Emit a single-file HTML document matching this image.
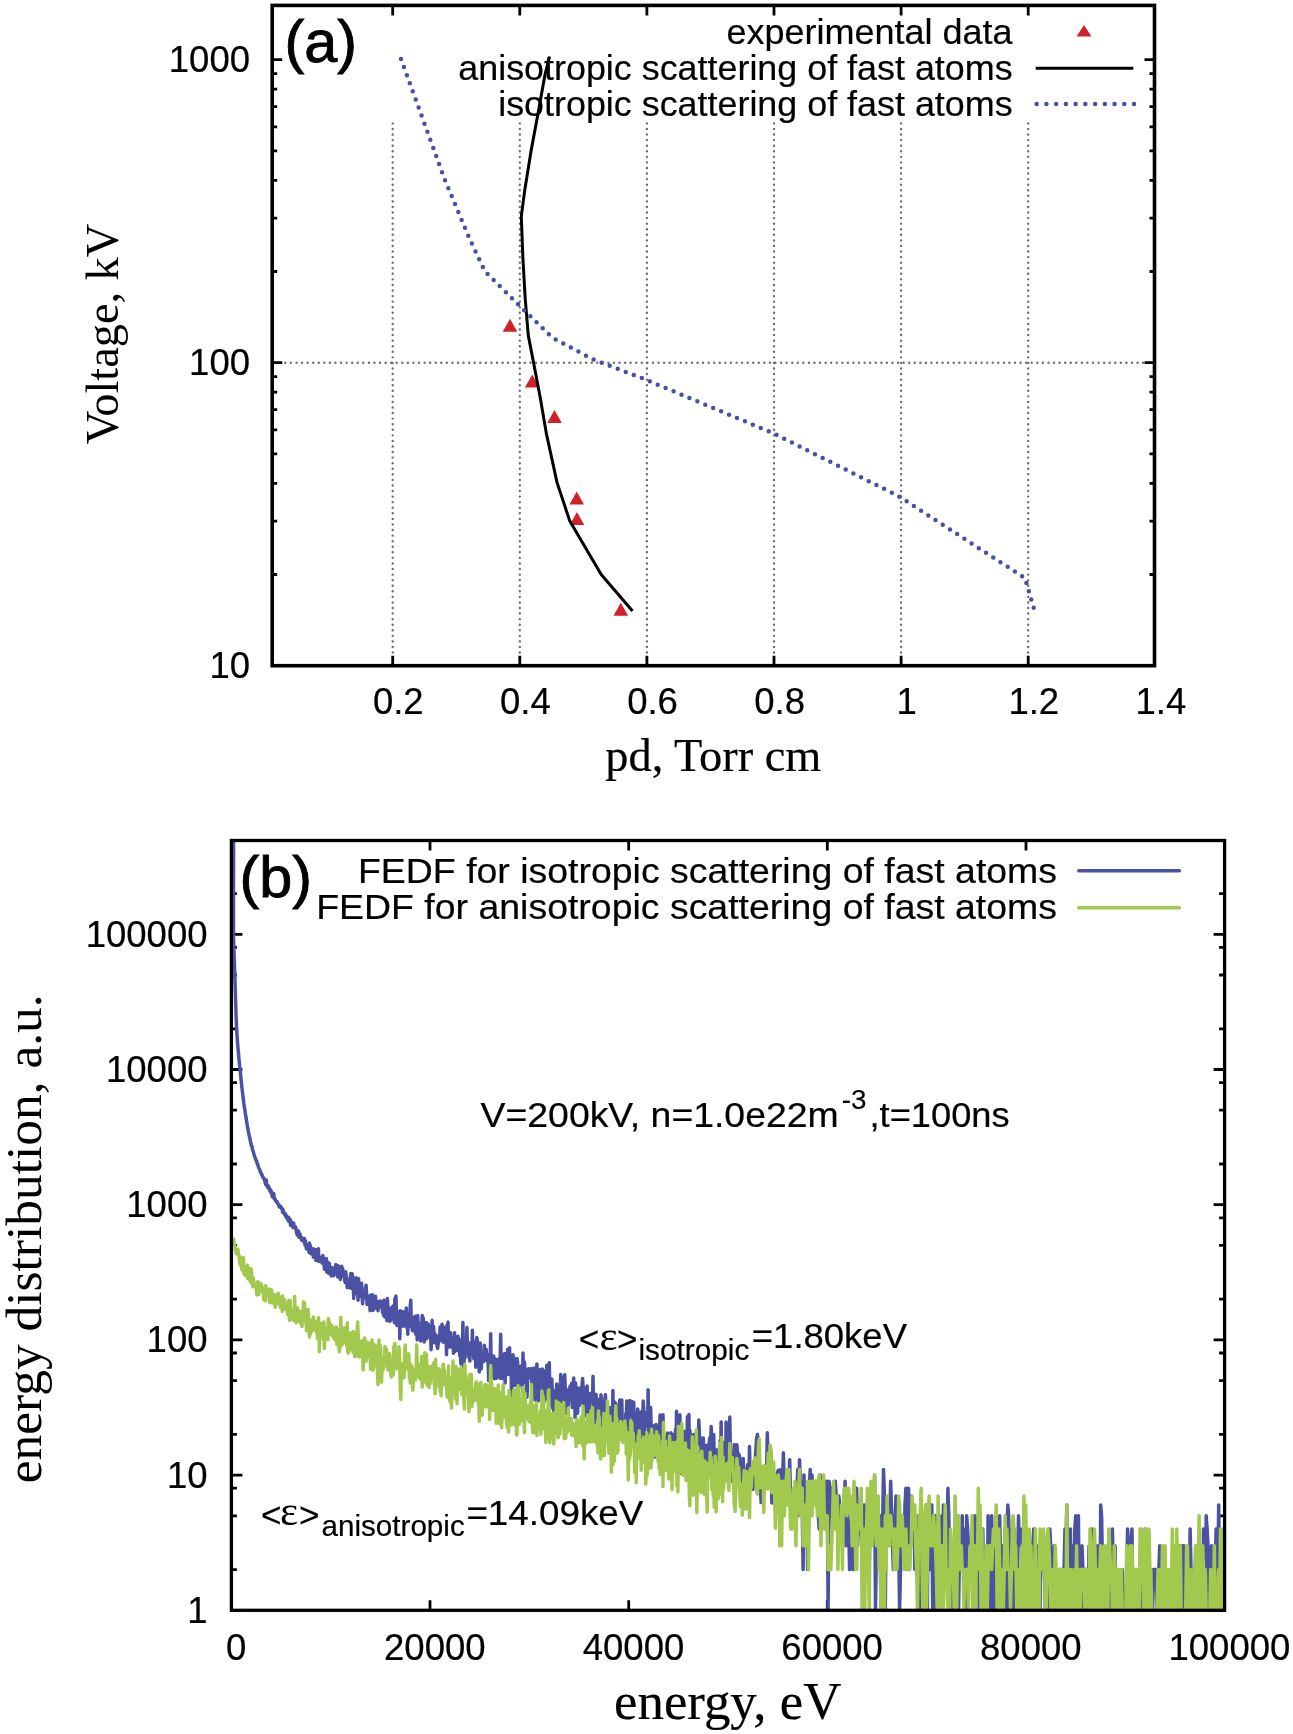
<!DOCTYPE html><html><head><meta charset="utf-8"><style>html,body{margin:0;padding:0;background:#fff;width:1293px;height:1734px;overflow:hidden;position:relative}</style></head><body><svg width="1293" height="1734" viewBox="0 0 1293 1734" style="position:absolute;left:0;top:0;filter:blur(0.5px)"><rect width="1293" height="1734" fill="#fff"/><path d="M392.7 663.7V121.2 M519.8 663.7V121.2 M646.9 663.7V121.2 M774.0 663.7V121.2 M901.1 663.7V121.2 M1028.2 663.7V121.2 M274.2 362.7H1152.5" stroke="#6e6e6e" stroke-width="2.4" stroke-linecap="round" stroke-dasharray="0 5.57" fill="none"/><path d="M272.2 665.7h10M1154.5 665.7h-10M272.2 574.5h5M1154.5 574.5h-5M272.2 521.1h5M1154.5 521.1h-5M272.2 483.3h5M1154.5 483.3h-5M272.2 453.9h5M1154.5 453.9h-5M272.2 429.9h5M1154.5 429.9h-5M272.2 409.6h5M1154.5 409.6h-5M272.2 392.1h5M1154.5 392.1h-5M272.2 376.6h5M1154.5 376.6h-5M272.2 362.7h10M1154.5 362.7h-10M272.2 271.5h5M1154.5 271.5h-5M272.2 218.1h5M1154.5 218.1h-5M272.2 180.3h5M1154.5 180.3h-5M272.2 150.9h5M1154.5 150.9h-5M272.2 126.9h5M1154.5 126.9h-5M272.2 106.6h5M1154.5 106.6h-5M272.2 89.1h5M1154.5 89.1h-5M272.2 73.6h5M1154.5 73.6h-5M272.2 59.7h10M1154.5 59.7h-10M392.7 665.7v-10M392.7 5.4v10M519.8 665.7v-10M519.8 5.4v10M646.9 665.7v-10M646.9 5.4v10M774.0 665.7v-10M774.0 5.4v10M901.1 665.7v-10M901.1 5.4v10M1028.2 665.7v-10M1028.2 5.4v10" stroke="#000" stroke-width="2.8" fill="none"/><path d="M510.0 318.7L517.3 331.7H502.7Z" fill="#d0212b"/><path d="M532.2 374.5L539.5 387.5H524.9Z" fill="#d0212b"/><path d="M554.5 410.1L561.8 423.1H547.2Z" fill="#d0212b"/><path d="M576.7 491.5L584.0 504.5H569.4Z" fill="#d0212b"/><path d="M577.0 512.1L584.3 525.1H569.7Z" fill="#d0212b"/><path d="M620.8 602.8L628.1 615.8H613.5Z" fill="#d0212b"/><polyline points="549.6,56.5 545.0,74.6 538.0,113.8 531.1,150.7 524.8,189.9 521.3,216.4 522.9,258.3 525.2,298.5 528.3,335.6 533.6,362.9 540.4,398.5 546.3,433.3 557.0,482.4 569.8,521.1 601.2,574.5 632.5,611.0" stroke="#000" stroke-width="3" fill="none" stroke-linejoin="round"/><polyline points="401.0,59.0 444.6,179.2 469.6,238.9 485.0,271.5 518.7,304.9 552.0,337.4 592.2,359.0 644.8,379.2 773.2,433.2 898.2,495.9 1024.9,578.0 1034.7,611.2" stroke="#4751a3" stroke-width="4.5" stroke-linecap="round" stroke-dasharray="0 8.6" fill="none"/><rect x="272.2" y="5.4" width="882.3" height="660.3" stroke="#000" stroke-width="3.6" fill="none"/><text x="250.0" y="71.7" font-size="36.5" text-anchor="end" font-family="Liberation Sans, sans-serif" stroke="#000" stroke-width="0.2">1000</text><text x="250.0" y="374.7" font-size="36.5" text-anchor="end" font-family="Liberation Sans, sans-serif" stroke="#000" stroke-width="0.2">100</text><text x="250.0" y="677.7" font-size="36.5" text-anchor="end" font-family="Liberation Sans, sans-serif" stroke="#000" stroke-width="0.2">10</text><text x="398.3" y="713.6" font-size="36.5" text-anchor="middle" font-family="Liberation Sans, sans-serif" stroke="#000" stroke-width="0.2">0.2</text><text x="525.4" y="713.6" font-size="36.5" text-anchor="middle" font-family="Liberation Sans, sans-serif" stroke="#000" stroke-width="0.2">0.4</text><text x="652.5" y="713.6" font-size="36.5" text-anchor="middle" font-family="Liberation Sans, sans-serif" stroke="#000" stroke-width="0.2">0.6</text><text x="779.6" y="713.6" font-size="36.5" text-anchor="middle" font-family="Liberation Sans, sans-serif" stroke="#000" stroke-width="0.2">0.8</text><text x="906.7" y="713.6" font-size="36.5" text-anchor="middle" font-family="Liberation Sans, sans-serif" stroke="#000" stroke-width="0.2">1</text><text x="1033.8" y="713.6" font-size="36.5" text-anchor="middle" font-family="Liberation Sans, sans-serif" stroke="#000" stroke-width="0.2">1.2</text><text x="1160.9" y="713.6" font-size="36.5" text-anchor="middle" font-family="Liberation Sans, sans-serif" stroke="#000" stroke-width="0.2">1.4</text><text x="713.3" y="770.7" font-size="46" text-anchor="middle" font-family="Liberation Serif, serif" textLength="216.0" lengthAdjust="spacingAndGlyphs" stroke="#000" stroke-width="0.2">pd, Torr cm</text><text transform="translate(118.3 334) rotate(-90)" x="0" y="0" font-size="46.5" text-anchor="middle" font-family="Liberation Serif, serif" textLength="220.5" lengthAdjust="spacingAndGlyphs">Voltage, kV</text><text x="284.5" y="61.7" font-size="58.5" text-anchor="start" font-family="Liberation Sans, sans-serif" textLength="72.5" lengthAdjust="spacingAndGlyphs" stroke="#000" stroke-width="0.9">(a)</text><text x="1012.6" y="44.4" font-size="34.5" text-anchor="end" font-family="Liberation Sans, sans-serif" textLength="286.0" lengthAdjust="spacingAndGlyphs" stroke="#000" stroke-width="0.2">experimental data</text><text x="1012.6" y="80.2" font-size="34.5" text-anchor="end" font-family="Liberation Sans, sans-serif" textLength="554.3" lengthAdjust="spacingAndGlyphs" stroke="#000" stroke-width="0.2">anisotropic scattering of fast atoms</text><text x="1012.6" y="115.5" font-size="34.5" text-anchor="end" font-family="Liberation Sans, sans-serif" textLength="514.4" lengthAdjust="spacingAndGlyphs" stroke="#000" stroke-width="0.2">isotropic scattering of fast atoms</text><path d="M1084 25L1091.5 36.5H1076.5Z" fill="#d0212b"/><path d="M1035.7 68.3H1133.3" stroke="#000" stroke-width="3"/><path d="M1036.7 104H1134" stroke="#4751a3" stroke-width="4.5" stroke-linecap="round" stroke-dasharray="0 9.73"/><path d="M231.4 1610.3h11M1224.6 1610.3h-11M231.4 1569.6h5.5M1224.6 1569.6h-5.5M231.4 1515.8h5.5M1224.6 1515.8h-5.5M231.4 1488.2h5.5M1224.6 1488.2h-5.5M231.4 1475.1h11M1224.6 1475.1h-11M231.4 1434.4h5.5M1224.6 1434.4h-5.5M231.4 1380.6h5.5M1224.6 1380.6h-5.5M231.4 1353.0h5.5M1224.6 1353.0h-5.5M231.4 1339.9h11M1224.6 1339.9h-11M231.4 1299.2h5.5M1224.6 1299.2h-5.5M231.4 1245.4h5.5M1224.6 1245.4h-5.5M231.4 1217.8h5.5M1224.6 1217.8h-5.5M231.4 1204.7h11M1224.6 1204.7h-11M231.4 1164.0h5.5M1224.6 1164.0h-5.5M231.4 1110.2h5.5M1224.6 1110.2h-5.5M231.4 1082.6h5.5M1224.6 1082.6h-5.5M231.4 1069.5h11M1224.6 1069.5h-11M231.4 1028.8h5.5M1224.6 1028.8h-5.5M231.4 975.0h5.5M1224.6 975.0h-5.5M231.4 947.4h5.5M1224.6 947.4h-5.5M231.4 934.3h11M1224.6 934.3h-11M231.4 893.6h5.5M1224.6 893.6h-5.5M430.0 1610.3v-10M430.0 840.5v10M628.7 1610.3v-10M628.7 840.5v10M827.3 1610.3v-10M827.3 840.5v10M1026.0 1610.3v-10M1026.0 840.5v10" stroke="#000" stroke-width="2.8" fill="none"/><defs><clipPath id="cb"><rect x="231.4" y="840.5" width="993.2" height="769.8"/></clipPath></defs><g clip-path="url(#cb)"><path d="M233.6 842 L233.5 900 233.5 937.3 234.0 951.7 234.5 966.2 235.0 980.9 235.5 997.5 236.0 1013.4 236.5 1026.0 237.0 1035.1 237.5 1042.3 238.0 1048.1 238.5 1053.7 238.9 1058.7 239.4 1063.7 239.9 1068.0 240.4 1072.8 240.9 1078.1 241.4 1082.6 241.9 1087.3 242.4 1091.6 242.9 1095.6 243.4 1099.6 243.9 1103.7 244.4 1107.1 244.9 1110.0 245.4 1113.6 245.9 1116.6 246.4 1119.9 246.9 1123.0 247.4 1126.1 247.9 1128.8 248.4 1131.7 248.9 1134.1 249.4 1136.5 249.9 1138.4 250.4 1141.5 250.9 1142.9 251.4 1145.9 251.9 1146.0 252.4 1149.1 252.9 1150.6 253.3 1151.5 253.8 1154.0 254.3 1155.4 254.8 1156.9 255.3 1158.2 255.8 1160.2 256.3 1160.3 256.8 1162.0 257.3 1163.9 257.8 1164.5 258.3 1166.5 258.8 1168.0 259.3 1169.0 259.8 1169.7 260.3 1172.2 260.8 1172.5 261.3 1173.1 261.8 1175.2 262.3 1175.3 262.8 1177.4 263.3 1177.4 263.8 1178.6 264.3 1179.3 264.8 1181.1 265.3 1183.1 265.8 1184.6 266.3 1180.0 266.8 1185.6 267.3 1185.9 267.8 1187.6 268.2 1185.6 268.7 1187.1 269.2 1187.8 269.7 1190.7 270.2 1189.4 270.7 1192.1 271.2 1190.8 271.7 1193.1 272.2 1196.5 272.7 1194.8 273.2 1196.6 273.7 1193.5 274.2 1198.8 274.7 1198.4 275.2 1199.3 275.7 1200.8 276.2 1201.6 276.7 1201.5 277.2 1201.8 277.7 1203.7 278.2 1204.3 278.7 1204.7 279.2 1206.9 279.7 1206.7 280.2 1207.0 280.7 1206.3 281.2 1207.6 281.7 1208.6 282.2 1208.7 282.6 1212.2 283.1 1209.8 283.6 1213.0 284.1 1213.4 284.6 1214.6 285.1 1213.4 285.6 1216.4 286.1 1215.0 286.6 1217.4 287.1 1218.4 287.6 1217.4 288.1 1220.5 288.6 1217.3 289.1 1221.7 289.6 1221.9 290.1 1219.3 290.6 1225.4 291.1 1221.3 291.6 1223.7 292.1 1224.3 292.6 1224.8 293.1 1227.8 293.6 1223.0 294.1 1226.1 294.6 1226.5 295.1 1226.8 295.6 1227.1 296.1 1229.3 296.6 1232.9 297.1 1234.4 297.5 1235.3 298.0 1233.8 298.5 1230.9 299.0 1237.3 299.5 1235.6 300.0 1233.9 300.5 1236.9 301.0 1237.4 301.5 1240.1 302.0 1237.6 302.5 1240.2 303.0 1241.1 303.5 1241.0 304.0 1239.5 304.5 1238.5 305.0 1245.0 305.5 1241.0 306.0 1246.1 306.5 1248.9 307.0 1246.1 307.5 1244.7 308.0 1245.6 308.5 1244.9 309.0 1252.5 309.5 1243.1 310.0 1245.3 310.5 1246.4 311.0 1253.8 311.5 1248.2 311.9 1251.7 312.4 1252.3 312.9 1251.3 313.4 1257.0 313.9 1249.0 314.4 1249.8 314.9 1251.0 315.4 1249.6 315.9 1260.3 316.4 1256.3 316.9 1256.9 317.4 1260.5 317.9 1254.1 318.4 1248.7 318.9 1261.5 319.4 1256.4 319.9 1258.6 320.4 1258.8 320.9 1259.4 321.4 1257.8 321.9 1262.9 322.4 1262.6 322.9 1255.6 323.4 1261.9 323.9 1262.4 324.4 1269.2 324.9 1261.4 325.4 1261.3 325.9 1262.9 326.3 1258.4 326.8 1272.1 327.3 1261.6 327.8 1271.5 328.3 1269.7 328.8 1273.6 329.3 1263.2 329.8 1267.2 330.3 1268.8 330.8 1267.3 331.3 1275.9 331.8 1270.5 332.3 1267.7 332.8 1271.1 333.3 1269.4 333.8 1275.7 334.3 1269.1 334.8 1271.3 335.3 1269.6 335.8 1264.5 336.3 1270.9 336.8 1274.0 337.3 1270.3 337.8 1276.9 338.3 1265.8 338.8 1273.0 339.3 1273.4 339.8 1271.7 340.3 1279.5 340.8 1274.7 341.2 1276.0 341.7 1266.2 342.2 1269.6 342.7 1268.3 343.2 1276.4 343.7 1276.4 344.2 1272.8 344.7 1280.9 345.2 1282.4 345.7 1271.7 346.2 1276.9 346.7 1277.4 347.2 1287.7 347.7 1282.3 348.2 1282.9 348.7 1284.5 349.2 1280.1 349.7 1286.3 350.2 1288.0 350.7 1273.6 351.2 1280.9 351.7 1288.5 352.2 1273.8 352.7 1281.7 353.2 1283.0 353.7 1298.4 354.2 1278.2 354.7 1285.0 355.2 1280.1 355.6 1278.0 356.1 1293.4 356.6 1277.9 357.1 1283.5 357.6 1287.5 358.1 1300.2 358.6 1278.7 359.1 1287.5 359.6 1286.4 360.1 1296.2 360.6 1287.2 361.1 1287.8 361.6 1283.2 362.1 1296.6 362.6 1303.7 363.1 1295.8 363.6 1298.3 364.1 1291.8 364.6 1294.5 365.1 1292.9 365.6 1287.4 366.1 1285.4 366.6 1294.9 367.1 1304.5 367.6 1296.1 368.1 1297.6 368.6 1297.3 369.1 1298.1 369.6 1297.8 370.1 1310.7 370.5 1295.3 371.0 1295.9 371.5 1297.3 372.0 1300.3 372.5 1294.7 373.0 1310.5 373.5 1301.5 374.0 1297.7 374.5 1304.4 375.0 1302.4 375.5 1296.3 376.0 1303.8 376.5 1308.5 377.0 1306.5 377.5 1301.6 378.0 1310.7 378.5 1304.5 379.0 1307.5 379.5 1304.9 380.0 1300.9 380.5 1301.3 381.0 1305.8 381.5 1305.2 382.0 1301.9 382.5 1312.2 383.0 1306.5 383.5 1315.3 384.0 1300.1 384.5 1307.8 384.9 1317.1 385.4 1312.1 385.9 1304.3 386.4 1307.6 386.9 1320.7 387.4 1298.4 387.9 1308.7 388.4 1307.9 388.9 1312.8 389.4 1316.4 389.9 1321.3 390.4 1310.3 390.9 1311.8 391.4 1313.6 391.9 1306.9 392.4 1310.1 392.9 1319.5 393.4 1315.5 393.9 1305.2 394.4 1322.7 394.9 1298.6 395.4 1317.4 395.9 1295.9 396.4 1311.0 396.9 1325.4 397.4 1311.3 397.9 1314.1 398.4 1318.0 398.9 1314.8 399.4 1315.1 399.8 1338.7 400.3 1310.8 400.8 1318.3 401.3 1316.4 401.8 1311.7 402.3 1317.2 402.8 1326.2 403.3 1311.8 403.8 1320.3 404.3 1316.6 404.8 1323.8 405.3 1320.0 405.8 1326.4 406.3 1308.0 406.8 1327.6 407.3 1313.0 407.8 1334.3 408.3 1318.9 408.8 1323.2 409.3 1314.1 409.8 1320.0 410.3 1305.0 410.8 1300.3 411.3 1326.7 411.8 1317.7 412.3 1330.3 412.8 1330.8 413.3 1324.2 413.8 1317.2 414.2 1319.3 414.7 1326.0 415.2 1316.2 415.7 1334.1 416.2 1332.3 416.7 1326.2 417.2 1339.9 417.7 1315.6 418.2 1327.4 418.7 1329.2 419.2 1323.4 419.7 1337.6 420.2 1328.2 420.7 1340.9 421.2 1329.0 421.7 1327.0 422.2 1315.5 422.7 1328.3 423.2 1317.8 423.7 1328.9 424.2 1342.0 424.7 1323.3 425.2 1329.0 425.7 1334.4 426.2 1322.5 426.7 1338.8 427.2 1333.6 427.7 1325.0 428.2 1324.0 428.6 1336.5 429.1 1328.9 429.6 1330.9 430.1 1326.7 430.6 1333.9 431.1 1349.7 431.6 1335.5 432.1 1320.2 432.6 1339.9 433.1 1334.8 433.6 1326.5 434.1 1335.5 434.6 1342.8 435.1 1334.2 435.6 1335.9 436.1 1341.7 436.6 1336.0 437.1 1346.5 437.6 1348.3 438.1 1344.8 438.6 1337.1 439.1 1335.7 439.6 1341.0 440.1 1326.9 440.6 1331.2 441.1 1336.1 441.6 1327.0 442.1 1324.2 442.6 1331.1 443.1 1342.2 443.5 1330.2 444.0 1327.5 444.5 1334.3 445.0 1339.1 445.5 1336.0 446.0 1335.6 446.5 1354.7 447.0 1325.2 447.5 1338.8 448.0 1322.0 448.5 1339.0 449.0 1346.9 449.5 1332.8 450.0 1339.5 450.5 1332.7 451.0 1344.6 451.5 1345.0 452.0 1347.3 452.5 1347.6 453.0 1338.0 453.5 1353.3 454.0 1340.6 454.5 1332.7 455.0 1351.4 455.5 1345.1 456.0 1350.3 456.5 1347.1 457.0 1342.5 457.5 1337.8 457.9 1336.3 458.4 1350.8 458.9 1338.7 459.4 1350.9 459.9 1356.1 460.4 1354.7 460.9 1364.0 461.4 1346.0 461.9 1363.7 462.4 1345.1 462.9 1322.6 463.4 1356.1 463.9 1367.4 464.4 1344.5 464.9 1358.1 465.4 1348.9 465.9 1348.9 466.4 1346.9 466.9 1327.6 467.4 1346.6 467.9 1347.3 468.4 1351.0 468.9 1357.3 469.4 1356.6 469.9 1361.0 470.4 1342.7 470.9 1352.8 471.4 1345.0 471.9 1348.6 472.4 1330.2 472.8 1353.1 473.3 1346.4 473.8 1358.7 474.3 1341.6 474.8 1355.1 475.3 1353.0 475.8 1367.2 476.3 1348.3 476.8 1337.5 477.3 1340.8 477.8 1365.5 478.3 1345.9 478.8 1362.2 479.3 1372.0 479.8 1368.2 480.3 1343.1 480.8 1359.3 481.3 1368.8 481.8 1353.0 482.3 1353.5 482.8 1360.3 483.3 1352.4 483.8 1361.5 484.3 1345.2 484.8 1350.2 485.3 1359.1 485.8 1355.0 486.3 1349.6 486.8 1360.4 487.2 1354.1 487.7 1361.1 488.2 1363.6 488.7 1380.6 489.2 1373.9 489.7 1371.8 490.2 1360.8 490.7 1333.8 491.2 1372.1 491.7 1367.0 492.2 1376.4 492.7 1367.1 493.2 1365.6 493.7 1356.0 494.2 1378.7 494.7 1358.5 495.2 1361.5 495.7 1367.7 496.2 1378.3 496.7 1376.5 497.2 1367.5 497.7 1359.2 498.2 1366.9 498.7 1374.3 499.2 1363.1 499.7 1378.0 500.2 1357.9 500.7 1334.3 501.2 1373.5 501.6 1355.8 502.1 1378.4 502.6 1366.8 503.1 1362.0 503.6 1354.7 504.1 1368.0 504.6 1353.5 505.1 1383.0 505.6 1371.4 506.1 1369.3 506.6 1368.5 507.1 1371.2 507.6 1349.2 508.1 1374.5 508.6 1359.0 509.1 1365.8 509.6 1347.7 510.1 1373.4 510.6 1363.0 511.1 1364.8 511.6 1407.8 512.1 1367.1 512.6 1360.1 513.1 1354.8 513.6 1384.3 514.1 1374.7 514.6 1358.7 515.1 1385.6 515.6 1382.2 516.1 1366.5 516.5 1365.6 517.0 1358.4 517.5 1361.0 518.0 1371.6 518.5 1386.1 519.0 1381.8 519.5 1374.7 520.0 1370.5 520.5 1374.4 521.0 1366.1 521.5 1384.0 522.0 1380.5 522.5 1390.6 523.0 1353.0 523.5 1378.0 524.0 1365.2 524.5 1362.0 525.0 1372.6 525.5 1379.0 526.0 1382.8 526.5 1380.3 527.0 1397.3 527.5 1383.9 528.0 1369.1 528.5 1374.8 529.0 1368.8 529.5 1369.3 530.0 1370.6 530.5 1377.6 530.9 1376.9 531.4 1368.7 531.9 1383.7 532.4 1395.3 532.9 1370.3 533.4 1379.8 533.9 1368.0 534.4 1388.1 534.9 1399.9 535.4 1383.0 535.9 1388.7 536.4 1392.6 536.9 1363.9 537.4 1378.7 537.9 1395.7 538.4 1400.8 538.9 1383.7 539.4 1375.9 539.9 1379.7 540.4 1369.6 540.9 1379.5 541.4 1378.0 541.9 1405.7 542.4 1369.0 542.9 1390.4 543.4 1373.4 543.9 1402.4 544.4 1395.0 544.9 1371.1 545.4 1399.3 545.8 1383.2 546.3 1389.8 546.8 1365.3 547.3 1381.2 547.8 1370.8 548.3 1386.4 548.8 1405.9 549.3 1362.8 549.8 1393.3 550.3 1386.2 550.8 1387.4 551.3 1405.5 551.8 1379.1 552.3 1392.1 552.8 1408.4 553.3 1405.4 553.8 1414.8 554.3 1397.7 554.8 1391.2 555.3 1400.3 555.8 1389.8 556.3 1393.8 556.8 1383.9 557.3 1390.1 557.8 1392.3 558.3 1400.1 558.8 1404.7 559.3 1401.6 559.8 1386.9 560.2 1397.1 560.7 1374.5 561.2 1382.3 561.7 1408.0 562.2 1387.1 562.7 1377.9 563.2 1400.3 563.7 1378.5 564.2 1401.7 564.7 1374.7 565.2 1387.1 565.7 1396.4 566.2 1413.5 566.7 1395.4 567.2 1403.3 567.7 1390.2 568.2 1405.2 568.7 1389.4 569.2 1400.8 569.7 1388.5 570.2 1385.9 570.7 1393.7 571.2 1390.1 571.7 1383.2 572.2 1407.5 572.7 1389.4 573.2 1393.8 573.7 1377.9 574.2 1399.2 574.6 1385.7 575.1 1417.5 575.6 1382.9 576.1 1392.8 576.6 1393.5 577.1 1387.7 577.6 1413.3 578.1 1401.3 578.6 1397.9 579.1 1402.7 579.6 1405.4 580.1 1388.1 580.6 1399.3 581.1 1402.7 581.6 1399.6 582.1 1384.7 582.6 1378.5 583.1 1387.8 583.6 1395.0 584.1 1416.9 584.6 1408.0 585.1 1412.5 585.6 1412.9 586.1 1387.8 586.6 1409.2 587.1 1386.0 587.6 1401.2 588.1 1404.3 588.6 1405.3 589.1 1420.0 589.5 1408.1 590.0 1393.4 590.5 1395.5 591.0 1402.0 591.5 1396.0 592.0 1402.4 592.5 1399.7 593.0 1376.2 593.5 1403.2 594.0 1425.5 594.5 1430.3 595.0 1414.1 595.5 1403.1 596.0 1394.2 596.5 1406.3 597.0 1404.6 597.5 1399.3 598.0 1418.2 598.5 1407.4 599.0 1403.0 599.5 1411.9 600.0 1417.2 600.5 1401.3 601.0 1394.8 601.5 1407.1 602.0 1436.0 602.5 1417.7 603.0 1413.6 603.5 1403.7 603.9 1414.7 604.4 1414.4 604.9 1398.0 605.4 1394.8 605.9 1409.0 606.4 1423.2 606.9 1424.9 607.4 1403.1 607.9 1420.1 608.4 1411.4 608.9 1413.6 609.4 1409.8 609.9 1407.8 610.4 1424.2 610.9 1419.8 611.4 1410.3 611.9 1412.3 612.4 1428.9 612.9 1390.4 613.4 1429.7 613.9 1401.2 614.4 1432.9 614.9 1402.5 615.4 1435.1 615.9 1403.5 616.4 1412.5 616.9 1405.4 617.4 1423.8 617.9 1412.1 618.4 1412.5 618.8 1413.7 619.3 1422.4 619.8 1400.0 620.3 1437.6 620.8 1434.6 621.3 1434.0 621.8 1400.0 622.3 1427.5 622.8 1425.9 623.3 1426.1 623.8 1421.4 624.3 1420.9 624.8 1423.9 625.3 1436.2 625.8 1413.6 626.3 1418.7 626.8 1401.0 627.3 1414.2 627.8 1420.2 628.3 1436.4 628.8 1418.7 629.3 1412.8 629.8 1400.4 630.3 1415.6 630.8 1411.0 631.3 1413.6 631.8 1401.6 632.3 1407.6 632.8 1420.7 633.2 1438.6 633.7 1402.3 634.2 1420.9 634.7 1431.7 635.2 1439.6 635.7 1443.8 636.2 1419.7 636.7 1425.1 637.2 1419.6 637.7 1408.9 638.2 1431.2 638.7 1420.5 639.2 1430.7 639.7 1435.1 640.2 1451.9 640.7 1434.5 641.2 1411.9 641.7 1431.8 642.2 1422.0 642.7 1424.4 643.2 1401.1 643.7 1408.2 644.2 1434.5 644.7 1432.1 645.2 1412.7 645.7 1424.2 646.2 1426.0 646.7 1412.8 647.2 1420.6 647.7 1425.9 648.1 1389.8 648.6 1423.1 649.1 1445.4 649.6 1424.5 650.1 1425.5 650.6 1407.6 651.1 1425.1 651.6 1437.6 652.1 1425.0 652.6 1445.7 653.1 1434.9 653.6 1425.9 654.1 1441.8 654.6 1457.1 655.1 1444.8 655.6 1442.1 656.1 1424.4 656.6 1438.3 657.1 1433.3 657.6 1445.0 658.1 1432.1 658.6 1441.4 659.1 1426.1 659.6 1430.6 660.1 1414.9 660.6 1426.5 661.1 1438.7 661.6 1446.2 662.1 1432.2 662.5 1425.4 663.0 1414.7 663.5 1443.0 664.0 1453.4 664.5 1460.5 665.0 1449.7 665.5 1439.2 666.0 1440.6 666.5 1441.3 667.0 1437.9 667.5 1433.1 668.0 1460.5 668.5 1437.4 669.0 1440.5 669.5 1440.9 670.0 1444.6 670.5 1464.3 671.0 1432.8 671.5 1445.8 672.0 1441.2 672.5 1435.5 673.0 1439.3 673.5 1434.4 674.0 1434.4 674.5 1453.1 675.0 1456.3 675.5 1429.5 676.0 1451.6 676.5 1411.3 676.9 1456.5 677.4 1439.2 677.9 1442.6 678.4 1438.2 678.9 1455.0 679.4 1437.7 679.9 1414.7 680.4 1450.2 680.9 1473.5 681.4 1434.0 681.9 1437.3 682.4 1433.9 682.9 1454.8 683.4 1437.8 683.9 1431.3 684.4 1450.8 684.9 1443.4 685.4 1437.0 685.9 1433.9 686.4 1447.9 686.9 1442.0 687.4 1416.7 687.9 1416.4 688.4 1460.2 688.9 1414.4 689.4 1451.0 689.9 1430.6 690.4 1463.6 690.9 1449.0 691.4 1455.7 691.8 1434.8 692.3 1443.8 692.8 1440.6 693.3 1441.4 693.8 1444.4 694.3 1434.2 694.8 1445.9 695.3 1449.1 695.8 1457.3 696.3 1461.4 696.8 1456.2 697.3 1443.3 697.8 1434.0 698.3 1450.9 698.8 1420.1 699.3 1431.2 699.8 1449.0 700.3 1444.6 700.8 1450.3 701.3 1477.2 701.8 1438.3 702.3 1447.4 702.8 1475.5 703.3 1437.9 703.8 1459.5 704.3 1454.9 704.8 1477.1 705.3 1452.3 705.8 1445.6 706.2 1458.5 706.7 1452.5 707.2 1481.0 707.7 1444.9 708.2 1453.8 708.7 1453.9 709.2 1443.4 709.7 1438.1 710.2 1455.1 710.7 1440.4 711.2 1426.4 711.7 1471.1 712.2 1453.4 712.7 1479.9 713.2 1449.9 713.7 1434.4 714.2 1457.7 714.7 1473.5 715.2 1464.4 715.7 1449.9 716.2 1479.7 716.7 1478.6 717.2 1449.7 717.7 1478.3 718.2 1456.2 718.7 1474.2 719.2 1482.8 719.7 1445.2 720.2 1440.4 720.7 1470.6 721.1 1422.1 721.6 1456.1 722.1 1450.4 722.6 1456.0 723.1 1476.2 723.6 1442.7 724.1 1456.9 724.6 1451.3 725.1 1457.1 725.6 1466.0 726.1 1422.0 726.6 1452.9 727.1 1463.8 727.6 1449.6 728.0 1480.1 728.9 1454.9 729.8 1417.1 730.7 1472.6 731.6 1453.8 732.5 1481.7 733.4 1462.2 734.3 1444.6 735.2 1480.3 736.0 1479.4 736.9 1444.7 737.8 1460.1 738.7 1453.8 739.6 1456.3 740.5 1487.6 741.4 1495.2 742.3 1498.8 743.2 1458.4 744.1 1491.8 745.0 1498.4 745.9 1477.9 746.8 1471.2 747.7 1464.5 748.6 1501.3 749.5 1446.6 750.3 1487.0 751.2 1468.2 752.1 1472.0 753.0 1489.3 753.9 1464.8 754.8 1466.2 755.7 1452.3 756.6 1438.3 757.5 1434.5 758.4 1456.4 759.3 1461.6 760.2 1481.1 761.1 1502.6 762.0 1467.5 762.9 1486.4 763.8 1481.1 764.6 1485.5 765.5 1469.0 766.4 1485.0 767.3 1432.7 768.2 1461.6 769.1 1488.3 770.0 1471.9 770.9 1452.4 771.8 1502.9 772.7 1476.1 773.6 1491.0 774.5 1479.9 775.4 1491.2 776.3 1478.5 777.2 1473.4 778.1 1470.5 779.0 1512.9 779.8 1469.7 780.7 1483.6 781.6 1497.5 782.5 1486.3 783.4 1452.8 784.3 1489.2 785.2 1504.3 786.1 1472.3 787.0 1491.4 787.9 1473.0 788.8 1482.4 789.7 1459.8 790.6 1501.5 791.5 1497.2 792.4 1496.0 793.3 1505.1 794.1 1515.8 795.0 1505.1 795.9 1505.1 796.8 1496.0 797.7 1469.5 798.6 1515.8 799.5 1459.7 800.4 1481.3 801.3 1481.3 802.2 1505.1 803.1 1569.6 804.0 1475.1 804.9 1528.9 805.8 1496.0 806.7 1488.2 807.6 1569.6 808.4 1515.8 809.3 1488.2 810.2 1469.5 811.1 1488.2 812.0 1475.1 812.9 1505.1 813.8 1496.0 814.7 1496.0 815.6 1481.3 816.5 1496.0 817.4 1505.1 818.3 1515.8 819.2 1528.9 820.1 1475.1 821.0 1505.1 821.9 1505.1 822.8 1481.3 823.6 1496.0 824.5 1505.1 825.4 1481.3 826.3 1528.9 827.2 1481.3 828.1 1610.3 829.0 1481.3 829.9 1488.2 830.8 1515.8 831.7 1488.2 832.6 1528.9 833.5 1496.0 834.4 1496.0 835.3 1481.3 836.2 1496.0 837.1 1528.9 837.9 1528.9 838.8 1496.0 839.7 1505.1 840.6 1515.8 841.5 1515.8 842.4 1505.1 843.3 1505.1 844.2 1505.1 845.1 1481.3 846.0 1545.8 846.9 1496.0 847.8 1515.8 848.7 1528.9 849.6 1569.6 850.5 1545.8 851.4 1528.9 852.2 1505.1 853.1 1569.6 854.0 1488.2 854.9 1528.9 855.8 1496.0 856.7 1488.2 857.6 1545.8 858.5 1515.8 859.4 1505.1 860.3 1505.1 861.2 1528.9 862.1 1545.8 863.0 1515.8 863.9 1505.1 864.8 1505.1 865.7 1528.9 866.6 1515.8 867.4 1528.9 868.3 1528.9 869.2 1569.6 870.1 1505.1 871.0 1515.8 871.9 1505.1 872.8 1528.9 873.7 1515.8 874.6 1475.1 875.5 1610.3 876.4 1545.8 877.3 1545.8 878.2 1528.9 879.1 1528.9 880.0 1515.8 880.9 1610.3 881.7 1569.6 882.6 1528.9 883.5 1469.5 884.4 1496.0 885.3 1610.3 886.2 1505.1 887.1 1515.8 888.0 1528.9 888.9 1528.9 889.8 1515.8 890.7 1481.3 891.6 1515.8 892.5 1545.8 893.4 1569.6 894.3 1515.8 895.2 1515.8 896.0 1496.0 896.9 1528.9 897.8 1528.9 898.7 1545.8 899.6 1610.3 900.5 1569.6 901.4 1528.9 902.3 1528.9 903.2 1515.8 904.1 1545.8 905.0 1505.1 905.9 1488.2 906.8 1545.8 907.7 1515.8 908.6 1488.2 909.5 1569.6 910.4 1515.8 911.2 1496.0 912.1 1515.8 913.0 1515.8 913.9 1505.1 914.8 1569.6 915.7 1545.8 916.6 1545.8 917.5 1569.6 918.4 1515.8 919.3 1610.3 920.2 1610.3 921.1 1610.3 922.0 1545.8 922.9 1569.6 923.8 1610.3 924.7 1610.3 925.5 1569.6 926.4 1505.1 927.3 1610.3 928.2 1515.8 929.1 1528.9 930.0 1569.6 930.9 1528.9 931.8 1505.1 932.7 1610.3 933.6 1545.8 934.5 1610.3 935.4 1515.8 936.3 1545.8 937.2 1610.3 938.1 1545.8 939.0 1569.6 939.8 1610.3 940.7 1610.3 941.6 1515.8 942.5 1610.3 943.4 1505.1 944.3 1515.8 945.2 1569.6 946.1 1569.6 947.0 1545.8 947.9 1488.2 948.8 1515.8 949.7 1569.6 950.6 1545.8 951.5 1610.3 952.4 1610.3 953.3 1569.6 954.2 1610.3 955.0 1610.3 955.9 1610.3 956.8 1610.3 957.7 1515.8 958.6 1610.3 959.5 1545.8 960.4 1545.8 961.3 1569.6 962.2 1515.8 963.1 1569.6 964.0 1528.9 964.9 1610.3 965.8 1610.3 966.7 1515.8 967.6 1528.9 968.5 1545.8 969.3 1545.8 970.2 1545.8 971.1 1569.6 972.0 1545.8 972.9 1610.3 973.8 1569.6 974.7 1515.8 975.6 1569.6 976.5 1569.6 977.4 1545.8 978.3 1515.8 979.2 1610.3 980.1 1569.6 981.0 1528.9 981.9 1569.6 982.8 1528.9 983.6 1610.3 984.5 1610.3 985.4 1569.6 986.3 1610.3 987.2 1610.3 988.1 1515.8 989.0 1610.3 989.9 1528.9 990.8 1610.3 991.7 1515.8 992.6 1569.6 993.5 1610.3 994.4 1528.9 995.3 1545.8 996.2 1610.3 997.1 1610.3 998.0 1569.6 998.8 1569.6 999.7 1515.8 1000.6 1569.6 1001.5 1545.8 1002.4 1610.3 1003.3 1545.8 1004.2 1610.3 1005.1 1528.9 1006.0 1610.3 1006.9 1528.9 1007.8 1505.1 1008.7 1515.8 1009.6 1610.3 1010.5 1528.9 1011.4 1569.6 1012.3 1545.8 1013.1 1610.3 1014.0 1528.9 1014.9 1569.6 1015.8 1610.3 1016.7 1545.8 1017.6 1569.6 1018.5 1515.8 1019.4 1545.8 1020.3 1545.8 1021.2 1545.8 1022.1 1528.9 1023.0 1569.6 1023.9 1569.6 1024.8 1569.6 1025.7 1610.3 1026.6 1569.6 1027.4 1545.8 1028.3 1610.3 1029.2 1610.3 1030.1 1610.3 1031.0 1569.6 1031.9 1610.3 1032.8 1545.8 1033.7 1528.9 1034.6 1610.3 1035.5 1569.6 1036.4 1569.6 1037.3 1545.8 1038.2 1610.3 1039.1 1569.6 1040.0 1610.3 1040.9 1545.8 1041.8 1569.6 1042.6 1569.6 1043.5 1569.6 1044.4 1569.6 1045.3 1610.3 1046.2 1610.3 1047.1 1545.8 1048.0 1610.3 1048.9 1610.3 1049.8 1528.9 1050.7 1545.8 1051.6 1569.6 1052.5 1569.6 1053.4 1610.3 1054.3 1545.8 1055.2 1610.3 1056.1 1610.3 1056.9 1610.3 1057.8 1610.3 1058.7 1610.3 1059.6 1569.6 1060.5 1569.6 1061.4 1569.6 1062.3 1569.6 1063.2 1569.6 1064.1 1569.6 1065.0 1528.9 1065.9 1545.8 1066.8 1505.1 1067.7 1569.6 1068.6 1569.6 1069.5 1610.3 1070.4 1528.9 1071.2 1610.3 1072.1 1545.8 1073.0 1610.3 1073.9 1610.3 1074.8 1528.9 1075.7 1515.8 1076.6 1610.3 1077.5 1569.6 1078.4 1515.8 1079.3 1610.3 1080.2 1610.3 1081.1 1610.3 1082.0 1545.8 1082.9 1569.6 1083.8 1610.3 1084.7 1569.6 1085.6 1569.6 1086.4 1569.6 1087.3 1610.3 1088.2 1610.3 1089.1 1545.8 1090.0 1610.3 1090.9 1569.6 1091.8 1528.9 1092.7 1610.3 1093.6 1545.8 1094.5 1545.8 1095.4 1610.3 1096.3 1610.3 1097.2 1545.8 1098.1 1610.3 1099.0 1569.6 1099.9 1610.3 1100.7 1505.1 1101.6 1515.8 1102.5 1569.6 1103.4 1610.3 1104.3 1610.3 1105.2 1610.3 1106.1 1610.3 1107.0 1610.3 1107.9 1610.3 1108.8 1610.3 1109.7 1569.6 1110.6 1610.3 1111.5 1610.3 1112.4 1528.9 1113.3 1569.6 1114.2 1610.3 1115.1 1545.8 1115.9 1610.3 1116.8 1569.6 1117.7 1610.3 1118.6 1610.3 1119.5 1610.3 1120.4 1610.3 1121.3 1610.3 1122.2 1569.6 1123.1 1610.3 1124.0 1610.3 1124.9 1610.3 1125.8 1610.3 1126.7 1569.6 1127.6 1528.9 1128.5 1545.8 1129.4 1545.8 1130.2 1569.6 1131.1 1545.8 1132.0 1528.9 1132.9 1610.3 1133.8 1610.3 1134.7 1610.3 1135.6 1569.6 1136.5 1569.6 1137.4 1610.3 1138.3 1569.6 1139.2 1569.6 1140.1 1610.3 1141.0 1610.3 1141.9 1569.6 1142.8 1569.6 1143.7 1569.6 1144.5 1610.3 1145.4 1528.9 1146.3 1545.8 1147.2 1610.3 1148.1 1610.3 1149.0 1610.3 1149.9 1569.6 1150.8 1610.3 1151.7 1569.6 1152.6 1610.3 1153.5 1569.6 1154.4 1569.6 1155.3 1569.6 1156.2 1569.6 1157.1 1610.3 1158.0 1610.3 1158.9 1569.6 1159.7 1545.8 1160.6 1610.3 1161.5 1610.3 1162.4 1569.6 1163.3 1569.6 1164.2 1610.3 1165.1 1569.6 1166.0 1610.3 1166.9 1610.3 1167.8 1610.3 1168.7 1610.3 1169.6 1610.3 1170.5 1569.6 1171.4 1569.6 1172.3 1610.3 1173.2 1610.3 1174.0 1569.6 1174.9 1569.6 1175.8 1569.6 1176.7 1610.3 1177.6 1610.3 1178.5 1610.3 1179.4 1545.8 1180.3 1545.8 1181.2 1610.3 1182.1 1610.3 1183.0 1545.8 1183.9 1545.8 1184.8 1569.6 1185.7 1610.3 1186.6 1610.3 1187.5 1569.6 1188.3 1610.3 1189.2 1610.3 1190.1 1528.9 1191.0 1569.6 1191.9 1610.3 1192.8 1610.3 1193.7 1610.3 1194.6 1569.6 1195.5 1610.3 1196.4 1610.3 1197.3 1545.8 1198.2 1610.3 1199.1 1610.3 1200.0 1610.3 1200.9 1569.6 1201.8 1610.3 1202.7 1610.3 1203.5 1528.9 1204.4 1545.8 1205.3 1610.3 1206.2 1515.8 1207.1 1528.9 1208.0 1545.8 1208.9 1610.3 1209.8 1610.3 1210.7 1569.6 1211.6 1545.8 1212.5 1610.3 1213.4 1610.3 1214.3 1610.3 1215.2 1569.6 1216.1 1528.9 1217.0 1569.6 1217.8 1569.6 1218.7 1505.1 1219.6 1569.6 1220.5 1610.3 1221.4 1610.3 1222.3 1569.6 1223.2 1569.6 1224.1 1528.9" stroke="#4b52a4" stroke-width="3.5" fill="none" stroke-linejoin="round"/><path d="M233.5 1237.8 234.0 1242.7 234.5 1245.4 235.0 1246.4 235.5 1250.3 236.0 1252.8 236.5 1253.9 237.0 1253.5 237.5 1253.1 238.0 1249.3 238.5 1255.7 238.9 1255.4 239.4 1256.0 239.9 1263.3 240.4 1265.1 240.9 1265.9 241.4 1258.1 241.9 1269.9 242.4 1263.6 242.9 1269.9 243.4 1257.6 243.9 1273.8 244.4 1274.3 244.9 1272.2 245.4 1275.6 245.9 1268.6 246.4 1268.7 246.9 1269.2 247.4 1265.1 247.9 1278.7 248.4 1274.7 248.9 1277.8 249.4 1280.0 249.9 1275.9 250.4 1268.4 250.9 1282.9 251.4 1269.4 251.9 1278.6 252.4 1282.8 252.9 1286.8 253.3 1277.8 253.8 1281.7 254.3 1283.8 254.8 1286.6 255.3 1284.9 255.8 1286.5 256.3 1284.6 256.8 1295.0 257.3 1285.0 257.8 1281.8 258.3 1283.2 258.8 1294.6 259.3 1287.6 259.8 1287.1 260.3 1283.1 260.8 1284.8 261.3 1284.4 261.8 1290.9 262.3 1286.9 262.8 1291.5 263.3 1292.8 263.8 1299.9 264.3 1290.1 264.8 1293.2 265.3 1300.9 265.8 1285.5 266.3 1295.1 266.8 1291.1 267.3 1291.7 267.8 1294.9 268.2 1292.9 268.7 1289.3 269.2 1299.0 269.7 1302.3 270.2 1289.3 270.7 1292.4 271.2 1299.9 271.7 1289.9 272.2 1303.0 272.7 1295.8 273.2 1294.7 273.7 1296.9 274.2 1294.6 274.7 1300.4 275.2 1307.3 275.7 1301.6 276.2 1295.1 276.7 1298.5 277.2 1299.4 277.7 1301.4 278.2 1293.3 278.7 1303.3 279.2 1298.9 279.7 1299.3 280.2 1307.1 280.7 1296.9 281.2 1299.5 281.7 1299.0 282.2 1311.5 282.6 1296.1 283.1 1306.4 283.6 1304.6 284.1 1302.3 284.6 1299.6 285.1 1309.2 285.6 1304.1 286.1 1306.4 286.6 1307.2 287.1 1307.5 287.6 1314.2 288.1 1308.6 288.6 1300.8 289.1 1315.7 289.6 1320.3 290.1 1300.4 290.6 1319.5 291.1 1312.9 291.6 1315.3 292.1 1309.8 292.6 1314.3 293.1 1308.9 293.6 1315.7 294.1 1320.5 294.6 1296.4 295.1 1312.6 295.6 1310.1 296.1 1322.7 296.6 1319.2 297.1 1317.9 297.5 1307.8 298.0 1320.9 298.5 1311.8 299.0 1317.8 299.5 1320.7 300.0 1310.9 300.5 1314.2 301.0 1324.1 301.5 1312.2 302.0 1326.5 302.5 1313.8 303.0 1318.4 303.5 1301.7 304.0 1314.5 304.5 1303.0 305.0 1314.5 305.5 1322.0 306.0 1314.1 306.5 1330.6 307.0 1329.0 307.5 1321.1 308.0 1309.2 308.5 1314.0 309.0 1331.4 309.5 1337.0 310.0 1319.7 310.5 1334.1 311.0 1331.1 311.5 1327.8 311.9 1330.8 312.4 1330.2 312.9 1325.7 313.4 1316.9 313.9 1329.7 314.4 1324.7 314.9 1321.9 315.4 1321.8 315.9 1326.7 316.4 1332.1 316.9 1327.2 317.4 1338.4 317.9 1327.8 318.4 1317.6 318.9 1323.1 319.4 1351.8 319.9 1324.0 320.4 1324.1 320.9 1331.6 321.4 1323.6 321.9 1324.1 322.4 1330.8 322.9 1331.9 323.4 1339.5 323.9 1322.0 324.4 1348.5 324.9 1327.8 325.4 1334.0 325.9 1330.7 326.3 1334.8 326.8 1332.1 327.3 1338.9 327.8 1339.6 328.3 1318.5 328.8 1335.1 329.3 1321.4 329.8 1326.3 330.3 1331.2 330.8 1330.4 331.3 1333.5 331.8 1325.4 332.3 1334.4 332.8 1336.9 333.3 1328.3 333.8 1334.1 334.3 1329.9 334.8 1339.7 335.3 1335.1 335.8 1326.9 336.3 1327.1 336.8 1344.4 337.3 1336.5 337.8 1344.8 338.3 1329.4 338.8 1344.2 339.3 1351.7 339.8 1346.6 340.3 1347.2 340.8 1317.3 341.2 1342.7 341.7 1331.7 342.2 1344.7 342.7 1335.3 343.2 1328.3 343.7 1331.3 344.2 1327.9 344.7 1331.7 345.2 1342.1 345.7 1336.1 346.2 1339.5 346.7 1345.4 347.2 1322.7 347.7 1350.3 348.2 1353.3 348.7 1347.0 349.2 1332.9 349.7 1346.5 350.2 1341.0 350.7 1350.0 351.2 1333.0 351.7 1341.2 352.2 1343.6 352.7 1331.8 353.2 1352.5 353.7 1331.9 354.2 1337.7 354.7 1356.6 355.2 1347.5 355.6 1341.7 356.1 1356.2 356.6 1354.4 357.1 1333.9 357.6 1321.9 358.1 1332.3 358.6 1342.0 359.1 1346.7 359.6 1357.1 360.1 1341.0 360.6 1353.2 361.1 1348.2 361.6 1347.6 362.1 1341.1 362.6 1344.0 363.1 1370.0 363.6 1355.4 364.1 1340.8 364.6 1338.0 365.1 1343.0 365.6 1341.1 366.1 1361.3 366.6 1351.7 367.1 1350.4 367.6 1342.7 368.1 1350.8 368.6 1357.1 369.1 1343.1 369.6 1352.1 370.1 1346.9 370.5 1369.1 371.0 1352.3 371.5 1348.3 372.0 1339.9 372.5 1353.4 373.0 1370.3 373.5 1367.6 374.0 1344.3 374.5 1345.6 375.0 1358.0 375.5 1364.8 376.0 1345.9 376.5 1362.2 377.0 1357.9 377.5 1372.6 378.0 1384.5 378.5 1356.2 379.0 1340.1 379.5 1362.2 380.0 1372.1 380.5 1346.0 381.0 1370.2 381.5 1382.1 382.0 1365.9 382.5 1357.7 383.0 1369.9 383.5 1361.6 384.0 1361.7 384.5 1361.5 384.9 1346.5 385.4 1360.6 385.9 1356.8 386.4 1348.9 386.9 1366.6 387.4 1354.0 387.9 1369.8 388.4 1363.1 388.9 1364.8 389.4 1353.5 389.9 1354.8 390.4 1372.0 390.9 1375.3 391.4 1377.0 391.9 1375.5 392.4 1372.4 392.9 1366.1 393.4 1374.9 393.9 1346.1 394.4 1352.7 394.9 1343.6 395.4 1361.0 395.9 1358.9 396.4 1368.8 396.9 1353.7 397.4 1360.7 397.9 1367.9 398.4 1362.7 398.9 1346.8 399.4 1349.5 399.8 1367.2 400.3 1389.0 400.8 1399.4 401.3 1368.8 401.8 1369.0 402.3 1369.1 402.8 1364.5 403.3 1363.0 403.8 1377.7 404.3 1375.8 404.8 1351.8 405.3 1344.9 405.8 1367.6 406.3 1367.7 406.8 1360.1 407.3 1365.6 407.8 1369.0 408.3 1369.9 408.8 1353.8 409.3 1377.9 409.8 1364.3 410.3 1383.1 410.8 1364.4 411.3 1367.1 411.8 1371.9 412.3 1367.0 412.8 1390.2 413.3 1380.1 413.8 1376.4 414.2 1370.7 414.7 1372.3 415.2 1379.9 415.7 1371.5 416.2 1368.4 416.7 1344.8 417.2 1370.7 417.7 1369.1 418.2 1369.6 418.7 1376.6 419.2 1378.1 419.7 1364.9 420.2 1376.5 420.7 1379.2 421.2 1374.2 421.7 1356.4 422.2 1387.1 422.7 1378.6 423.2 1371.3 423.7 1368.1 424.2 1356.3 424.7 1352.8 425.2 1381.9 425.7 1366.7 426.2 1353.9 426.7 1362.5 427.2 1384.9 427.7 1382.3 428.2 1374.8 428.6 1366.6 429.1 1387.4 429.6 1366.9 430.1 1383.6 430.6 1369.5 431.1 1368.6 431.6 1371.7 432.1 1365.7 432.6 1377.4 433.1 1375.2 433.6 1363.1 434.1 1384.2 434.6 1384.9 435.1 1393.8 435.6 1359.3 436.1 1387.0 436.6 1368.3 437.1 1377.9 437.6 1374.1 438.1 1383.7 438.6 1381.0 439.1 1368.7 439.6 1378.7 440.1 1391.5 440.6 1382.2 441.1 1396.0 441.6 1375.1 442.1 1371.3 442.6 1378.9 443.1 1364.6 443.5 1364.3 444.0 1383.9 444.5 1370.3 445.0 1385.3 445.5 1380.7 446.0 1385.4 446.5 1381.9 447.0 1396.6 447.5 1385.3 448.0 1397.7 448.5 1366.1 449.0 1389.5 449.5 1384.8 450.0 1401.6 450.5 1392.2 451.0 1378.6 451.5 1408.1 452.0 1381.1 452.5 1390.3 453.0 1361.0 453.5 1377.4 454.0 1375.0 454.5 1381.7 455.0 1373.7 455.5 1398.5 456.0 1366.5 456.5 1376.8 457.0 1403.8 457.5 1381.7 457.9 1385.8 458.4 1369.4 458.9 1389.5 459.4 1385.9 459.9 1381.6 460.4 1388.9 460.9 1367.7 461.4 1381.8 461.9 1394.7 462.4 1385.0 462.9 1390.1 463.4 1368.8 463.9 1400.5 464.4 1408.9 464.9 1364.3 465.4 1388.7 465.9 1375.5 466.4 1388.5 466.9 1394.4 467.4 1382.9 467.9 1388.3 468.4 1396.7 468.9 1411.5 469.4 1386.4 469.9 1374.4 470.4 1377.0 470.9 1406.3 471.4 1374.7 471.9 1406.7 472.4 1396.7 472.8 1390.4 473.3 1390.8 473.8 1401.0 474.3 1395.4 474.8 1390.6 475.3 1390.8 475.8 1384.3 476.3 1381.9 476.8 1391.1 477.3 1401.0 477.8 1384.5 478.3 1393.4 478.8 1402.5 479.3 1421.2 479.8 1391.9 480.3 1386.5 480.8 1382.3 481.3 1405.9 481.8 1395.8 482.3 1415.3 482.8 1393.5 483.3 1392.7 483.8 1405.6 484.3 1390.2 484.8 1384.9 485.3 1384.5 485.8 1407.0 486.3 1396.4 486.8 1384.9 487.2 1399.1 487.7 1401.6 488.2 1400.3 488.7 1387.3 489.2 1400.3 489.7 1419.5 490.2 1390.3 490.7 1365.4 491.2 1393.0 491.7 1382.5 492.2 1394.7 492.7 1401.3 493.2 1410.6 493.7 1393.1 494.2 1399.2 494.7 1388.8 495.2 1397.7 495.7 1392.1 496.2 1423.4 496.7 1396.2 497.2 1393.1 497.7 1396.8 498.2 1385.1 498.7 1401.8 499.2 1393.4 499.7 1424.0 500.2 1392.7 500.7 1393.2 501.2 1412.2 501.6 1427.7 502.1 1414.0 502.6 1403.5 503.1 1384.4 503.6 1417.2 504.1 1398.6 504.6 1396.8 505.1 1397.8 505.6 1412.2 506.1 1396.9 506.6 1420.7 507.1 1427.5 507.6 1406.2 508.1 1415.6 508.6 1432.0 509.1 1390.5 509.6 1396.9 510.1 1399.1 510.6 1417.1 511.1 1414.6 511.6 1425.0 512.1 1407.0 512.6 1410.1 513.1 1407.6 513.6 1390.2 514.1 1413.4 514.6 1409.7 515.1 1425.1 515.6 1389.7 516.1 1393.7 516.5 1435.1 517.0 1434.2 517.5 1388.7 518.0 1385.8 518.5 1400.3 519.0 1392.0 519.5 1424.2 520.0 1408.1 520.5 1399.1 521.0 1411.4 521.5 1420.8 522.0 1411.5 522.5 1420.0 523.0 1387.4 523.5 1414.5 524.0 1418.4 524.5 1432.8 525.0 1393.2 525.5 1412.8 526.0 1404.2 526.5 1412.4 527.0 1407.9 527.5 1411.0 528.0 1418.7 528.5 1406.0 529.0 1421.4 529.5 1408.6 530.0 1407.6 530.5 1402.7 530.9 1423.0 531.4 1384.6 531.9 1410.2 532.4 1426.7 532.9 1432.8 533.4 1412.3 533.9 1414.5 534.4 1406.1 534.9 1432.4 535.4 1414.7 535.9 1409.1 536.4 1402.9 536.9 1435.4 537.4 1422.1 537.9 1424.4 538.4 1416.6 538.9 1418.8 539.4 1414.4 539.9 1426.5 540.4 1410.8 540.9 1434.3 541.4 1416.8 541.9 1391.1 542.4 1428.6 542.9 1395.3 543.4 1401.0 543.9 1422.5 544.4 1411.2 544.9 1410.0 545.4 1428.9 545.8 1442.4 546.3 1420.8 546.8 1433.5 547.3 1411.2 547.8 1438.4 548.3 1393.3 548.8 1389.7 549.3 1427.4 549.8 1442.8 550.3 1414.8 550.8 1425.1 551.3 1420.3 551.8 1438.2 552.3 1436.8 552.8 1413.2 553.3 1435.5 553.8 1443.9 554.3 1413.8 554.8 1413.0 555.3 1424.1 555.8 1433.1 556.3 1401.0 556.8 1425.0 557.3 1412.8 557.8 1437.1 558.3 1437.7 558.8 1418.7 559.3 1403.0 559.8 1434.0 560.2 1428.7 560.7 1426.7 561.2 1405.0 561.7 1422.4 562.2 1417.4 562.7 1411.2 563.2 1413.7 563.7 1402.4 564.2 1438.7 564.7 1419.2 565.2 1418.5 565.7 1438.2 566.2 1421.6 566.7 1420.2 567.2 1428.2 567.7 1432.0 568.2 1408.3 568.7 1420.7 569.2 1425.0 569.7 1420.9 570.2 1430.5 570.7 1421.6 571.2 1418.6 571.7 1435.5 572.2 1426.1 572.7 1426.0 573.2 1423.3 573.7 1430.5 574.2 1425.8 574.6 1431.8 575.1 1437.1 575.6 1432.8 576.1 1446.5 576.6 1419.0 577.1 1422.3 577.6 1438.1 578.1 1439.1 578.6 1438.5 579.1 1442.8 579.6 1442.1 580.1 1421.3 580.6 1432.0 581.1 1416.8 581.6 1422.0 582.1 1423.2 582.6 1445.5 583.1 1406.2 583.6 1431.3 584.1 1458.9 584.6 1432.7 585.1 1434.3 585.6 1422.5 586.1 1443.4 586.6 1428.4 587.1 1435.2 587.6 1414.8 588.1 1434.6 588.6 1424.4 589.1 1417.9 589.5 1441.9 590.0 1427.3 590.5 1431.3 591.0 1410.5 591.5 1423.8 592.0 1441.6 592.5 1407.5 593.0 1439.4 593.5 1433.0 594.0 1431.0 594.5 1425.0 595.0 1441.9 595.5 1436.2 596.0 1438.3 596.5 1430.8 597.0 1444.6 597.5 1439.6 598.0 1452.9 598.5 1410.9 599.0 1427.4 599.5 1417.6 600.0 1444.5 600.5 1459.0 601.0 1457.4 601.5 1452.6 602.0 1428.5 602.5 1441.2 603.0 1443.5 603.5 1453.6 603.9 1413.4 604.4 1455.5 604.9 1440.0 605.4 1441.0 605.9 1439.3 606.4 1439.7 606.9 1432.5 607.4 1400.8 607.9 1422.2 608.4 1433.7 608.9 1453.1 609.4 1417.2 609.9 1416.4 610.4 1446.9 610.9 1431.1 611.4 1472.2 611.9 1453.9 612.4 1423.6 612.9 1464.4 613.4 1430.5 613.9 1424.0 614.4 1460.9 614.9 1442.2 615.4 1418.9 615.9 1405.8 616.4 1439.6 616.9 1418.8 617.4 1453.0 617.9 1450.8 618.4 1434.7 618.8 1430.2 619.3 1438.6 619.8 1424.6 620.3 1429.0 620.8 1421.6 621.3 1429.7 621.8 1440.3 622.3 1438.8 622.8 1442.4 623.3 1438.8 623.8 1424.6 624.3 1426.1 624.8 1421.1 625.3 1427.6 625.8 1428.1 626.3 1454.1 626.8 1447.3 627.3 1449.2 627.8 1453.8 628.3 1480.0 628.8 1432.7 629.3 1459.8 629.8 1455.4 630.3 1455.4 630.8 1420.7 631.3 1438.3 631.8 1422.2 632.3 1445.5 632.8 1433.3 633.2 1433.3 633.7 1448.0 634.2 1443.6 634.7 1472.5 635.2 1462.8 635.7 1445.3 636.2 1482.8 636.7 1443.7 637.2 1445.0 637.7 1458.3 638.2 1436.0 638.7 1440.8 639.2 1430.8 639.7 1445.5 640.2 1439.2 640.7 1444.1 641.2 1470.3 641.7 1449.8 642.2 1451.9 642.7 1448.4 643.2 1449.6 643.7 1437.6 644.2 1451.5 644.7 1462.2 645.2 1442.2 645.7 1484.1 646.2 1474.1 646.7 1432.7 647.2 1475.2 647.7 1447.8 648.1 1469.5 648.6 1442.1 649.1 1447.3 649.6 1436.6 650.1 1444.3 650.6 1434.4 651.1 1468.0 651.6 1429.2 652.1 1460.8 652.6 1440.6 653.1 1456.8 653.6 1435.9 654.1 1447.3 654.6 1450.8 655.1 1444.6 655.6 1455.0 656.1 1454.5 656.6 1431.7 657.1 1445.4 657.6 1453.2 658.1 1461.4 658.6 1435.7 659.1 1468.2 659.6 1456.6 660.1 1474.5 660.6 1465.8 661.1 1458.7 661.6 1450.5 662.1 1457.3 662.5 1441.1 663.0 1486.6 663.5 1422.6 664.0 1447.4 664.5 1448.9 665.0 1470.8 665.5 1441.2 666.0 1469.8 666.5 1458.3 667.0 1454.2 667.5 1448.6 668.0 1449.3 668.5 1472.3 669.0 1479.1 669.5 1435.9 670.0 1445.2 670.5 1448.6 671.0 1450.9 671.5 1449.8 672.0 1489.7 672.5 1458.0 673.0 1442.4 673.5 1456.9 674.0 1446.3 674.5 1451.6 675.0 1466.0 675.5 1471.8 676.0 1461.0 676.5 1441.9 676.9 1486.1 677.4 1444.2 677.9 1491.9 678.4 1426.3 678.9 1462.7 679.4 1457.4 679.9 1468.0 680.4 1444.0 680.9 1472.6 681.4 1436.9 681.9 1423.5 682.4 1460.2 682.9 1475.1 683.4 1447.3 683.9 1473.4 684.4 1466.7 684.9 1457.7 685.4 1443.1 685.9 1480.6 686.4 1449.6 686.9 1453.1 687.4 1464.0 687.9 1450.3 688.4 1460.9 688.9 1469.0 689.4 1497.3 689.9 1505.7 690.4 1462.4 690.9 1451.5 691.4 1481.4 691.8 1469.3 692.3 1436.7 692.8 1449.6 693.3 1495.3 693.8 1453.3 694.3 1470.2 694.8 1456.4 695.3 1464.3 695.8 1482.9 696.3 1430.0 696.8 1512.5 697.3 1486.1 697.8 1447.1 698.3 1470.2 698.8 1463.4 699.3 1486.9 699.8 1455.5 700.3 1483.5 700.8 1492.0 701.3 1492.4 701.8 1451.2 702.3 1473.0 702.8 1459.1 703.3 1465.2 703.8 1475.7 704.3 1494.2 704.8 1467.4 705.3 1461.5 705.8 1494.2 706.2 1484.5 706.7 1489.6 707.2 1512.1 707.7 1468.4 708.2 1463.3 708.7 1475.9 709.2 1470.0 709.7 1471.4 710.2 1452.3 710.7 1459.6 711.2 1457.4 711.7 1489.5 712.2 1466.2 712.7 1475.9 713.2 1496.2 713.7 1467.2 714.2 1507.3 714.7 1497.3 715.2 1456.2 715.7 1463.8 716.2 1511.8 716.7 1469.6 717.2 1474.5 717.7 1482.2 718.2 1498.7 718.7 1483.0 719.2 1463.5 719.7 1442.9 720.2 1461.0 720.7 1494.0 721.1 1464.2 721.6 1437.6 722.1 1481.2 722.6 1501.7 723.1 1457.0 723.6 1489.3 724.1 1476.7 724.6 1471.2 725.1 1481.5 725.6 1478.0 726.1 1465.4 726.6 1463.7 727.1 1471.8 727.6 1463.1 728.0 1471.7 728.9 1490.5 729.8 1443.6 730.7 1471.5 731.6 1468.0 732.5 1457.6 733.4 1480.4 734.3 1504.5 735.2 1511.3 736.0 1486.2 736.9 1458.5 737.8 1471.2 738.7 1467.4 739.6 1488.2 740.5 1506.8 741.4 1484.3 742.3 1515.2 743.2 1496.8 744.1 1470.4 745.0 1493.4 745.9 1508.9 746.8 1471.6 747.7 1472.4 748.6 1479.1 749.5 1517.6 750.3 1468.7 751.2 1488.0 752.1 1472.4 753.0 1461.8 753.9 1473.9 754.8 1457.8 755.7 1469.0 756.6 1491.7 757.5 1494.0 758.4 1445.0 759.3 1439.3 760.2 1487.7 761.1 1476.3 762.0 1472.9 762.9 1466.2 763.8 1512.4 764.6 1465.8 765.5 1478.0 766.4 1477.2 767.3 1488.9 768.2 1453.1 769.1 1488.4 770.0 1445.2 770.9 1449.8 771.8 1492.6 772.7 1462.5 773.6 1462.0 774.5 1488.8 775.4 1528.2 776.3 1489.4 777.2 1476.6 778.1 1475.1 779.0 1481.3 779.8 1545.8 780.7 1505.1 781.6 1545.8 782.5 1481.3 783.4 1481.3 784.3 1515.8 785.2 1496.0 786.1 1481.3 787.0 1469.5 787.9 1505.1 788.8 1469.5 789.7 1496.0 790.6 1528.9 791.5 1496.0 792.4 1528.9 793.3 1488.2 794.1 1515.8 795.0 1481.3 795.9 1545.8 796.8 1505.1 797.7 1505.1 798.6 1488.2 799.5 1469.5 800.4 1515.8 801.3 1488.2 802.2 1488.2 803.1 1545.8 804.0 1545.8 804.9 1505.1 805.8 1528.9 806.7 1545.8 807.6 1481.3 808.4 1569.6 809.3 1515.8 810.2 1481.3 811.1 1515.8 812.0 1515.8 812.9 1481.3 813.8 1481.3 814.7 1505.1 815.6 1481.3 816.5 1488.2 817.4 1515.8 818.3 1481.3 819.2 1475.1 820.1 1505.1 821.0 1545.8 821.9 1481.3 822.8 1496.0 823.6 1475.1 824.5 1528.9 825.4 1515.8 826.3 1515.8 827.2 1515.8 828.1 1569.6 829.0 1569.6 829.9 1545.8 830.8 1569.6 831.7 1545.8 832.6 1515.8 833.5 1481.3 834.4 1515.8 835.3 1528.9 836.2 1505.1 837.1 1496.0 837.9 1569.6 838.8 1528.9 839.7 1528.9 840.6 1528.9 841.5 1505.1 842.4 1569.6 843.3 1505.1 844.2 1488.2 845.1 1496.0 846.0 1488.2 846.9 1515.8 847.8 1505.1 848.7 1488.2 849.6 1505.1 850.5 1496.0 851.4 1515.8 852.2 1545.8 853.1 1515.8 854.0 1481.3 854.9 1505.1 855.8 1569.6 856.7 1569.6 857.6 1505.1 858.5 1515.8 859.4 1528.9 860.3 1515.8 861.2 1488.2 862.1 1610.3 863.0 1569.6 863.9 1528.9 864.8 1610.3 865.7 1528.9 866.6 1528.9 867.4 1488.2 868.3 1545.8 869.2 1610.3 870.1 1515.8 871.0 1481.3 871.9 1545.8 872.8 1515.8 873.7 1528.9 874.6 1475.1 875.5 1528.9 876.4 1545.8 877.3 1496.0 878.2 1496.0 879.1 1569.6 880.0 1528.9 880.9 1610.3 881.7 1528.9 882.6 1569.6 883.5 1569.6 884.4 1610.3 885.3 1515.8 886.2 1569.6 887.1 1496.0 888.0 1528.9 888.9 1545.8 889.8 1545.8 890.7 1515.8 891.6 1528.9 892.5 1528.9 893.4 1528.9 894.3 1569.6 895.2 1545.8 896.0 1528.9 896.9 1569.6 897.8 1545.8 898.7 1496.0 899.6 1505.1 900.5 1545.8 901.4 1545.8 902.3 1515.8 903.2 1545.8 904.1 1569.6 905.0 1545.8 905.9 1528.9 906.8 1569.6 907.7 1545.8 908.6 1569.6 909.5 1569.6 910.4 1545.8 911.2 1545.8 912.1 1496.0 913.0 1528.9 913.9 1515.8 914.8 1505.1 915.7 1545.8 916.6 1569.6 917.5 1610.3 918.4 1545.8 919.3 1515.8 920.2 1515.8 921.1 1488.2 922.0 1569.6 922.9 1610.3 923.8 1545.8 924.7 1515.8 925.5 1505.1 926.4 1610.3 927.3 1569.6 928.2 1515.8 929.1 1496.0 930.0 1528.9 930.9 1545.8 931.8 1528.9 932.7 1545.8 933.6 1515.8 934.5 1528.9 935.4 1545.8 936.3 1569.6 937.2 1610.3 938.1 1496.0 939.0 1528.9 939.8 1569.6 940.7 1610.3 941.6 1545.8 942.5 1545.8 943.4 1610.3 944.3 1569.6 945.2 1505.1 946.1 1569.6 947.0 1569.6 947.9 1610.3 948.8 1610.3 949.7 1610.3 950.6 1528.9 951.5 1545.8 952.4 1569.6 953.3 1569.6 954.2 1610.3 955.0 1496.0 955.9 1528.9 956.8 1610.3 957.7 1528.9 958.6 1515.8 959.5 1569.6 960.4 1545.8 961.3 1545.8 962.2 1569.6 963.1 1569.6 964.0 1610.3 964.9 1569.6 965.8 1569.6 966.7 1569.6 967.6 1569.6 968.5 1610.3 969.3 1569.6 970.2 1545.8 971.1 1569.6 972.0 1515.8 972.9 1610.3 973.8 1610.3 974.7 1545.8 975.6 1610.3 976.5 1545.8 977.4 1569.6 978.3 1488.2 979.2 1545.8 980.1 1505.1 981.0 1610.3 981.9 1528.9 982.8 1610.3 983.6 1610.3 984.5 1569.6 985.4 1569.6 986.3 1545.8 987.2 1610.3 988.1 1569.6 989.0 1545.8 989.9 1545.8 990.8 1545.8 991.7 1569.6 992.6 1545.8 993.5 1528.9 994.4 1545.8 995.3 1528.9 996.2 1505.1 997.1 1610.3 998.0 1610.3 998.8 1528.9 999.7 1569.6 1000.6 1610.3 1001.5 1569.6 1002.4 1610.3 1003.3 1610.3 1004.2 1569.6 1005.1 1515.8 1006.0 1569.6 1006.9 1528.9 1007.8 1569.6 1008.7 1569.6 1009.6 1569.6 1010.5 1610.3 1011.4 1569.6 1012.3 1528.9 1013.1 1515.8 1014.0 1528.9 1014.9 1569.6 1015.8 1545.8 1016.7 1610.3 1017.6 1569.6 1018.5 1610.3 1019.4 1569.6 1020.3 1610.3 1021.2 1569.6 1022.1 1545.8 1023.0 1610.3 1023.9 1496.0 1024.8 1610.3 1025.7 1505.1 1026.6 1569.6 1027.4 1610.3 1028.3 1610.3 1029.2 1528.9 1030.1 1569.6 1031.0 1545.8 1031.9 1610.3 1032.8 1610.3 1033.7 1569.6 1034.6 1569.6 1035.5 1528.9 1036.4 1610.3 1037.3 1569.6 1038.2 1610.3 1039.1 1610.3 1040.0 1528.9 1040.9 1569.6 1041.8 1569.6 1042.6 1569.6 1043.5 1528.9 1044.4 1545.8 1045.3 1610.3 1046.2 1610.3 1047.1 1545.8 1048.0 1528.9 1048.9 1545.8 1049.8 1569.6 1050.7 1610.3 1051.6 1610.3 1052.5 1569.6 1053.4 1610.3 1054.3 1610.3 1055.2 1545.8 1056.1 1569.6 1056.9 1569.6 1057.8 1610.3 1058.7 1610.3 1059.6 1569.6 1060.5 1610.3 1061.4 1569.6 1062.3 1610.3 1063.2 1610.3 1064.1 1569.6 1065.0 1610.3 1065.9 1610.3 1066.8 1505.1 1067.7 1610.3 1068.6 1569.6 1069.5 1569.6 1070.4 1569.6 1071.2 1610.3 1072.1 1610.3 1073.0 1610.3 1073.9 1569.6 1074.8 1610.3 1075.7 1610.3 1076.6 1545.8 1077.5 1610.3 1078.4 1610.3 1079.3 1569.6 1080.2 1610.3 1081.1 1569.6 1082.0 1569.6 1082.9 1569.6 1083.8 1569.6 1084.7 1610.3 1085.6 1569.6 1086.4 1569.6 1087.3 1610.3 1088.2 1610.3 1089.1 1610.3 1090.0 1528.9 1090.9 1545.8 1091.8 1545.8 1092.7 1610.3 1093.6 1569.6 1094.5 1528.9 1095.4 1569.6 1096.3 1610.3 1097.2 1569.6 1098.1 1610.3 1099.0 1610.3 1099.9 1569.6 1100.7 1545.8 1101.6 1610.3 1102.5 1610.3 1103.4 1610.3 1104.3 1545.8 1105.2 1569.6 1106.1 1610.3 1107.0 1545.8 1107.9 1610.3 1108.8 1528.9 1109.7 1545.8 1110.6 1569.6 1111.5 1569.6 1112.4 1610.3 1113.3 1610.3 1114.2 1545.8 1115.1 1569.6 1115.9 1610.3 1116.8 1569.6 1117.7 1610.3 1118.6 1569.6 1119.5 1569.6 1120.4 1610.3 1121.3 1569.6 1122.2 1610.3 1123.1 1610.3 1124.0 1610.3 1124.9 1610.3 1125.8 1610.3 1126.7 1545.8 1127.6 1610.3 1128.5 1610.3 1129.4 1610.3 1130.2 1545.8 1131.1 1569.6 1132.0 1545.8 1132.9 1610.3 1133.8 1569.6 1134.7 1610.3 1135.6 1569.6 1136.5 1569.6 1137.4 1610.3 1138.3 1610.3 1139.2 1610.3 1140.1 1528.9 1141.0 1569.6 1141.9 1528.9 1142.8 1569.6 1143.7 1610.3 1144.5 1569.6 1145.4 1528.9 1146.3 1610.3 1147.2 1610.3 1148.1 1610.3 1149.0 1528.9 1149.9 1569.6 1150.8 1569.6 1151.7 1610.3 1152.6 1610.3 1153.5 1610.3 1154.4 1610.3 1155.3 1610.3 1156.2 1610.3 1157.1 1610.3 1158.0 1569.6 1158.9 1610.3 1159.7 1569.6 1160.6 1610.3 1161.5 1610.3 1162.4 1545.8 1163.3 1610.3 1164.2 1610.3 1165.1 1545.8 1166.0 1610.3 1166.9 1610.3 1167.8 1610.3 1168.7 1569.6 1169.6 1610.3 1170.5 1610.3 1171.4 1610.3 1172.3 1528.9 1173.2 1610.3 1174.0 1545.8 1174.9 1610.3 1175.8 1610.3 1176.7 1528.9 1177.6 1569.6 1178.5 1610.3 1179.4 1610.3 1180.3 1545.8 1181.2 1610.3 1182.1 1610.3 1183.0 1610.3 1183.9 1610.3 1184.8 1610.3 1185.7 1610.3 1186.6 1545.8 1187.5 1545.8 1188.3 1610.3 1189.2 1610.3 1190.1 1610.3 1191.0 1569.6 1191.9 1610.3 1192.8 1610.3 1193.7 1610.3 1194.6 1569.6 1195.5 1545.8 1196.4 1610.3 1197.3 1545.8 1198.2 1569.6 1199.1 1515.8 1200.0 1610.3 1200.9 1610.3 1201.8 1610.3 1202.7 1545.8 1203.5 1569.6 1204.4 1610.3 1205.3 1569.6 1206.2 1610.3 1207.1 1610.3 1208.0 1610.3 1208.9 1610.3 1209.8 1610.3 1210.7 1569.6 1211.6 1610.3 1212.5 1610.3 1213.4 1610.3 1214.3 1545.8 1215.2 1610.3 1216.1 1610.3 1217.0 1610.3 1217.8 1610.3 1218.7 1569.6 1219.6 1610.3 1220.5 1528.9 1221.4 1610.3 1222.3 1569.6 1223.2 1528.9 1224.1 1545.8" stroke="#a2c84e" stroke-width="3.5" fill="none" stroke-linejoin="round"/></g><rect x="231.4" y="840.5" width="993.2" height="769.8" stroke="#000" stroke-width="3.3" fill="none"/><text x="207.5" y="946.8" font-size="36.5" text-anchor="end" font-family="Liberation Sans, sans-serif" stroke="#000" stroke-width="0.2">100000</text><text x="207.5" y="1082.0" font-size="36.5" text-anchor="end" font-family="Liberation Sans, sans-serif" stroke="#000" stroke-width="0.2">10000</text><text x="207.5" y="1217.2" font-size="36.5" text-anchor="end" font-family="Liberation Sans, sans-serif" stroke="#000" stroke-width="0.2">1000</text><text x="207.5" y="1352.4" font-size="36.5" text-anchor="end" font-family="Liberation Sans, sans-serif" stroke="#000" stroke-width="0.2">100</text><text x="207.5" y="1487.6" font-size="36.5" text-anchor="end" font-family="Liberation Sans, sans-serif" stroke="#000" stroke-width="0.2">10</text><text x="207.5" y="1622.8" font-size="36.5" text-anchor="end" font-family="Liberation Sans, sans-serif" stroke="#000" stroke-width="0.2">1</text><text x="236.2" y="1660.4" font-size="36.5" text-anchor="middle" font-family="Liberation Sans, sans-serif" stroke="#000" stroke-width="0.2">0</text><text x="434.8" y="1660.4" font-size="36.5" text-anchor="middle" font-family="Liberation Sans, sans-serif" stroke="#000" stroke-width="0.2">20000</text><text x="633.5" y="1660.4" font-size="36.5" text-anchor="middle" font-family="Liberation Sans, sans-serif" stroke="#000" stroke-width="0.2">40000</text><text x="832.1" y="1660.4" font-size="36.5" text-anchor="middle" font-family="Liberation Sans, sans-serif" stroke="#000" stroke-width="0.2">60000</text><text x="1030.8" y="1660.4" font-size="36.5" text-anchor="middle" font-family="Liberation Sans, sans-serif" stroke="#000" stroke-width="0.2">80000</text><text x="1229.4" y="1660.4" font-size="36.5" text-anchor="middle" font-family="Liberation Sans, sans-serif" stroke="#000" stroke-width="0.2">100000</text><text x="727.7" y="1719.3" font-size="52" text-anchor="middle" font-family="Liberation Serif, serif" textLength="227.2" lengthAdjust="spacingAndGlyphs" stroke="#000" stroke-width="0.2">energy, eV</text><text transform="translate(41 1238.8) rotate(-90)" x="0" y="0" font-size="51" text-anchor="middle" font-family="Liberation Serif, serif" textLength="489" lengthAdjust="spacingAndGlyphs">energy distribution, a.u.</text><text x="239.5" y="897.4" font-size="58" text-anchor="start" font-family="Liberation Sans, sans-serif" textLength="72.5" lengthAdjust="spacingAndGlyphs" stroke="#000" stroke-width="0.9">(b)</text><text x="1057.0" y="882.8" font-size="34.5" text-anchor="end" font-family="Liberation Sans, sans-serif" textLength="699.0" lengthAdjust="spacingAndGlyphs" stroke="#000" stroke-width="0.2">FEDF for isotropic scattering of fast atoms</text><text x="1057.0" y="919.4" font-size="34.5" text-anchor="end" font-family="Liberation Sans, sans-serif" textLength="740.8" lengthAdjust="spacingAndGlyphs" stroke="#000" stroke-width="0.2">FEDF for anisotropic scattering of fast atoms</text><path d="M1078.8 870.8H1179.5" stroke="#4b52a4" stroke-width="3.4" stroke-linecap="round"/><path d="M1078.8 907.7H1179.5" stroke="#a2c84e" stroke-width="3.4" stroke-linecap="round"/><text x="480.6" y="1126.6" font-size="35" text-anchor="start" font-family="Liberation Sans, sans-serif" textLength="358.0" lengthAdjust="spacingAndGlyphs" stroke="#000" stroke-width="0.2">V=200kV, n=1.0e22m</text><text x="841.7" y="1108.5" font-size="28" text-anchor="start" font-family="Liberation Sans, sans-serif" textLength="24.7" lengthAdjust="spacingAndGlyphs" stroke="#000" stroke-width="0.2">-3</text><text x="869.5" y="1126.6" font-size="35" text-anchor="start" font-family="Liberation Sans, sans-serif" textLength="140.1" lengthAdjust="spacingAndGlyphs" stroke="#000" stroke-width="0.2">,t=100ns</text><text x="578.8" y="1351.2" font-size="35" text-anchor="start" font-family="Liberation Sans, sans-serif" stroke="#000" stroke-width="0.2">&lt;</text><text x="599.6" y="1349.7" font-size="43" font-family="Liberation Serif, serif">ε</text><text x="617.1" y="1351.2" font-size="35" text-anchor="start" font-family="Liberation Sans, sans-serif" stroke="#000" stroke-width="0.2">&gt;</text><text x="638.4" y="1359.6" font-size="30" text-anchor="start" font-family="Liberation Sans, sans-serif" textLength="110.9" lengthAdjust="spacingAndGlyphs" stroke="#000" stroke-width="0.2">isotropic</text><text x="751.8" y="1348.4" font-size="35" text-anchor="start" font-family="Liberation Sans, sans-serif" textLength="155.2" lengthAdjust="spacingAndGlyphs" stroke="#000" stroke-width="0.2">=1.80keV</text><text x="261.0" y="1526.9" font-size="35" text-anchor="start" font-family="Liberation Sans, sans-serif" stroke="#000" stroke-width="0.2">&lt;</text><text x="280" y="1525.3" font-size="43" font-family="Liberation Serif, serif">ε</text><text x="299.1" y="1526.9" font-size="35" text-anchor="start" font-family="Liberation Sans, sans-serif" stroke="#000" stroke-width="0.2">&gt;</text><text x="321.5" y="1535.5" font-size="30" text-anchor="start" font-family="Liberation Sans, sans-serif" textLength="143.2" lengthAdjust="spacingAndGlyphs" stroke="#000" stroke-width="0.2">anisotropic</text><text x="466.4" y="1524.9" font-size="35" text-anchor="start" font-family="Liberation Sans, sans-serif" textLength="176.9" lengthAdjust="spacingAndGlyphs" stroke="#000" stroke-width="0.2">=14.09keV</text></svg></body></html>
